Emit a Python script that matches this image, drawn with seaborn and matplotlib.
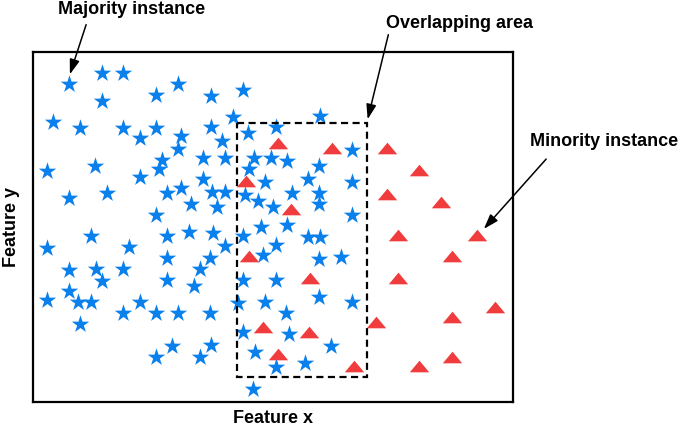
import pandas as pd
import matplotlib
matplotlib.use('Agg')
import matplotlib.pyplot as plt
from matplotlib.patches import Rectangle
import seaborn as sns

# Majority class (stars), positions (y grows downward)
maj_x = [69, 102, 123, 102, 156, 178, 211, 243, 233, 53, 80, 123, 140, 156, 181, 178,
         211, 222, 47, 95, 140, 162, 159, 203, 225, 69, 107, 167, 181, 191, 203, 212,
         225, 217, 156, 167, 189, 213, 225, 47, 91, 129, 69, 96, 102, 123, 167, 167,
         210, 200, 194, 47, 69, 78, 91, 80, 123, 140, 156, 178, 210, 156, 172, 200,
         211, 248, 276, 320, 254, 271, 287, 249, 352, 319, 308, 265, 352, 245, 292,
         319, 258, 319, 273, 352, 261, 287, 243, 308, 320, 276, 263, 319, 341, 243,
         276, 319, 352, 238, 265, 286, 243, 289, 331, 255, 276, 305, 253]
maj_y = [84, 73, 73, 101, 95, 84, 96, 90, 117, 122, 128, 128, 138, 128, 136, 149,
         127, 141, 171, 166, 177, 160, 169, 158, 158, 198, 193, 193, 188, 204, 179, 192,
         192, 207, 215, 236, 232, 233, 246, 248, 236, 247, 270, 269, 281, 269, 258, 280,
         258, 269, 286, 300, 291, 302, 302, 324, 313, 302, 313, 313, 313, 357, 346, 357,
         345, 133, 127, 116, 158, 158, 161, 169, 150, 166, 179, 182, 182, 195, 193,
         193, 201, 204, 207, 215, 227, 225, 236, 237, 237, 245, 255, 259, 257, 280,
         280, 297, 302, 303, 302, 313, 332, 334, 346, 352, 367, 363, 389]

# Minority class (triangles)
min_x = [278, 332, 246, 291, 249, 310, 263, 309, 278, 354, 387, 419, 387, 441, 398,
         477, 452, 398, 495, 376, 452, 452, 419]
min_y = [143, 148, 181, 209, 256, 278, 327, 332, 354, 366, 148, 170, 194, 202, 235,
         235, 256, 278, 307, 322, 317, 357, 366]

maj = pd.DataFrame({'x': maj_x, 'y': maj_y})
mino = pd.DataFrame({'x': min_x, 'y': min_y})

sns.set_style('white')
plt.rcParams['font.family'] = ['Liberation Sans', 'DejaVu Sans']
plt.rcParams['text.color'] = 'black'
plt.rcParams['axes.labelcolor'] = 'black'

fig = plt.figure(figsize=(6.85, 4.32), dpi=100)
ax = fig.add_axes([33 / 685, 30 / 432, 480 / 685, 350 / 432])

flat_tri = [(-1, -0.6), (1, -0.6), (0, 0.6)]
sns.scatterplot(data=maj, x='x', y='y', marker='*', s=175, color='#0a80ec',
                linewidth=0, ax=ax, zorder=3)
sns.scatterplot(data=mino, x='x', y='y', marker=flat_tri, s=195, color='#f03c3c',
                linewidth=0, ax=ax, zorder=3)

ax.set_xlim(33, 513)
ax.set_ylim(402, 52)
ax.set_xticks([])
ax.set_yticks([])
for sp in ax.spines.values():
    sp.set_color('black')
    sp.set_linewidth(1.6)

# overlapping area
ax.add_patch(Rectangle((237, 123), 130, 254, fill=False, edgecolor='black',
                       linewidth=1.6, linestyle=(0, (3.2, 2)), zorder=4))

ax.set_xlabel('Feature x', fontsize=13, fontweight='bold', labelpad=6)
ax.set_ylabel('Feature y', fontsize=13, fontweight='bold', labelpad=9)

arrow = dict(arrowstyle='-|>,head_length=0.9,head_width=0.3', color='black', lw=1.1)
ax.text(132, 10, 'Majority instance', ha='center', va='center',
        fontsize=13, fontweight='bold', clip_on=False)
ax.annotate('', xy=(69, 77), xytext=(87, 22), annotation_clip=False, arrowprops=arrow)
ax.text(460, 24, 'Overlapping area', ha='center', va='center',
        fontsize=13, fontweight='bold', clip_on=False)
ax.annotate('', xy=(367, 122), xytext=(389, 32), annotation_clip=False, arrowprops=arrow)
ax.text(604, 141, 'Minority instance', ha='center', va='center',
        fontsize=13, fontweight='bold', clip_on=False)
ax.annotate('', xy=(482, 231), xytext=(548, 157), annotation_clip=False, arrowprops=arrow)

fig.savefig('out.png', dpi=100)
